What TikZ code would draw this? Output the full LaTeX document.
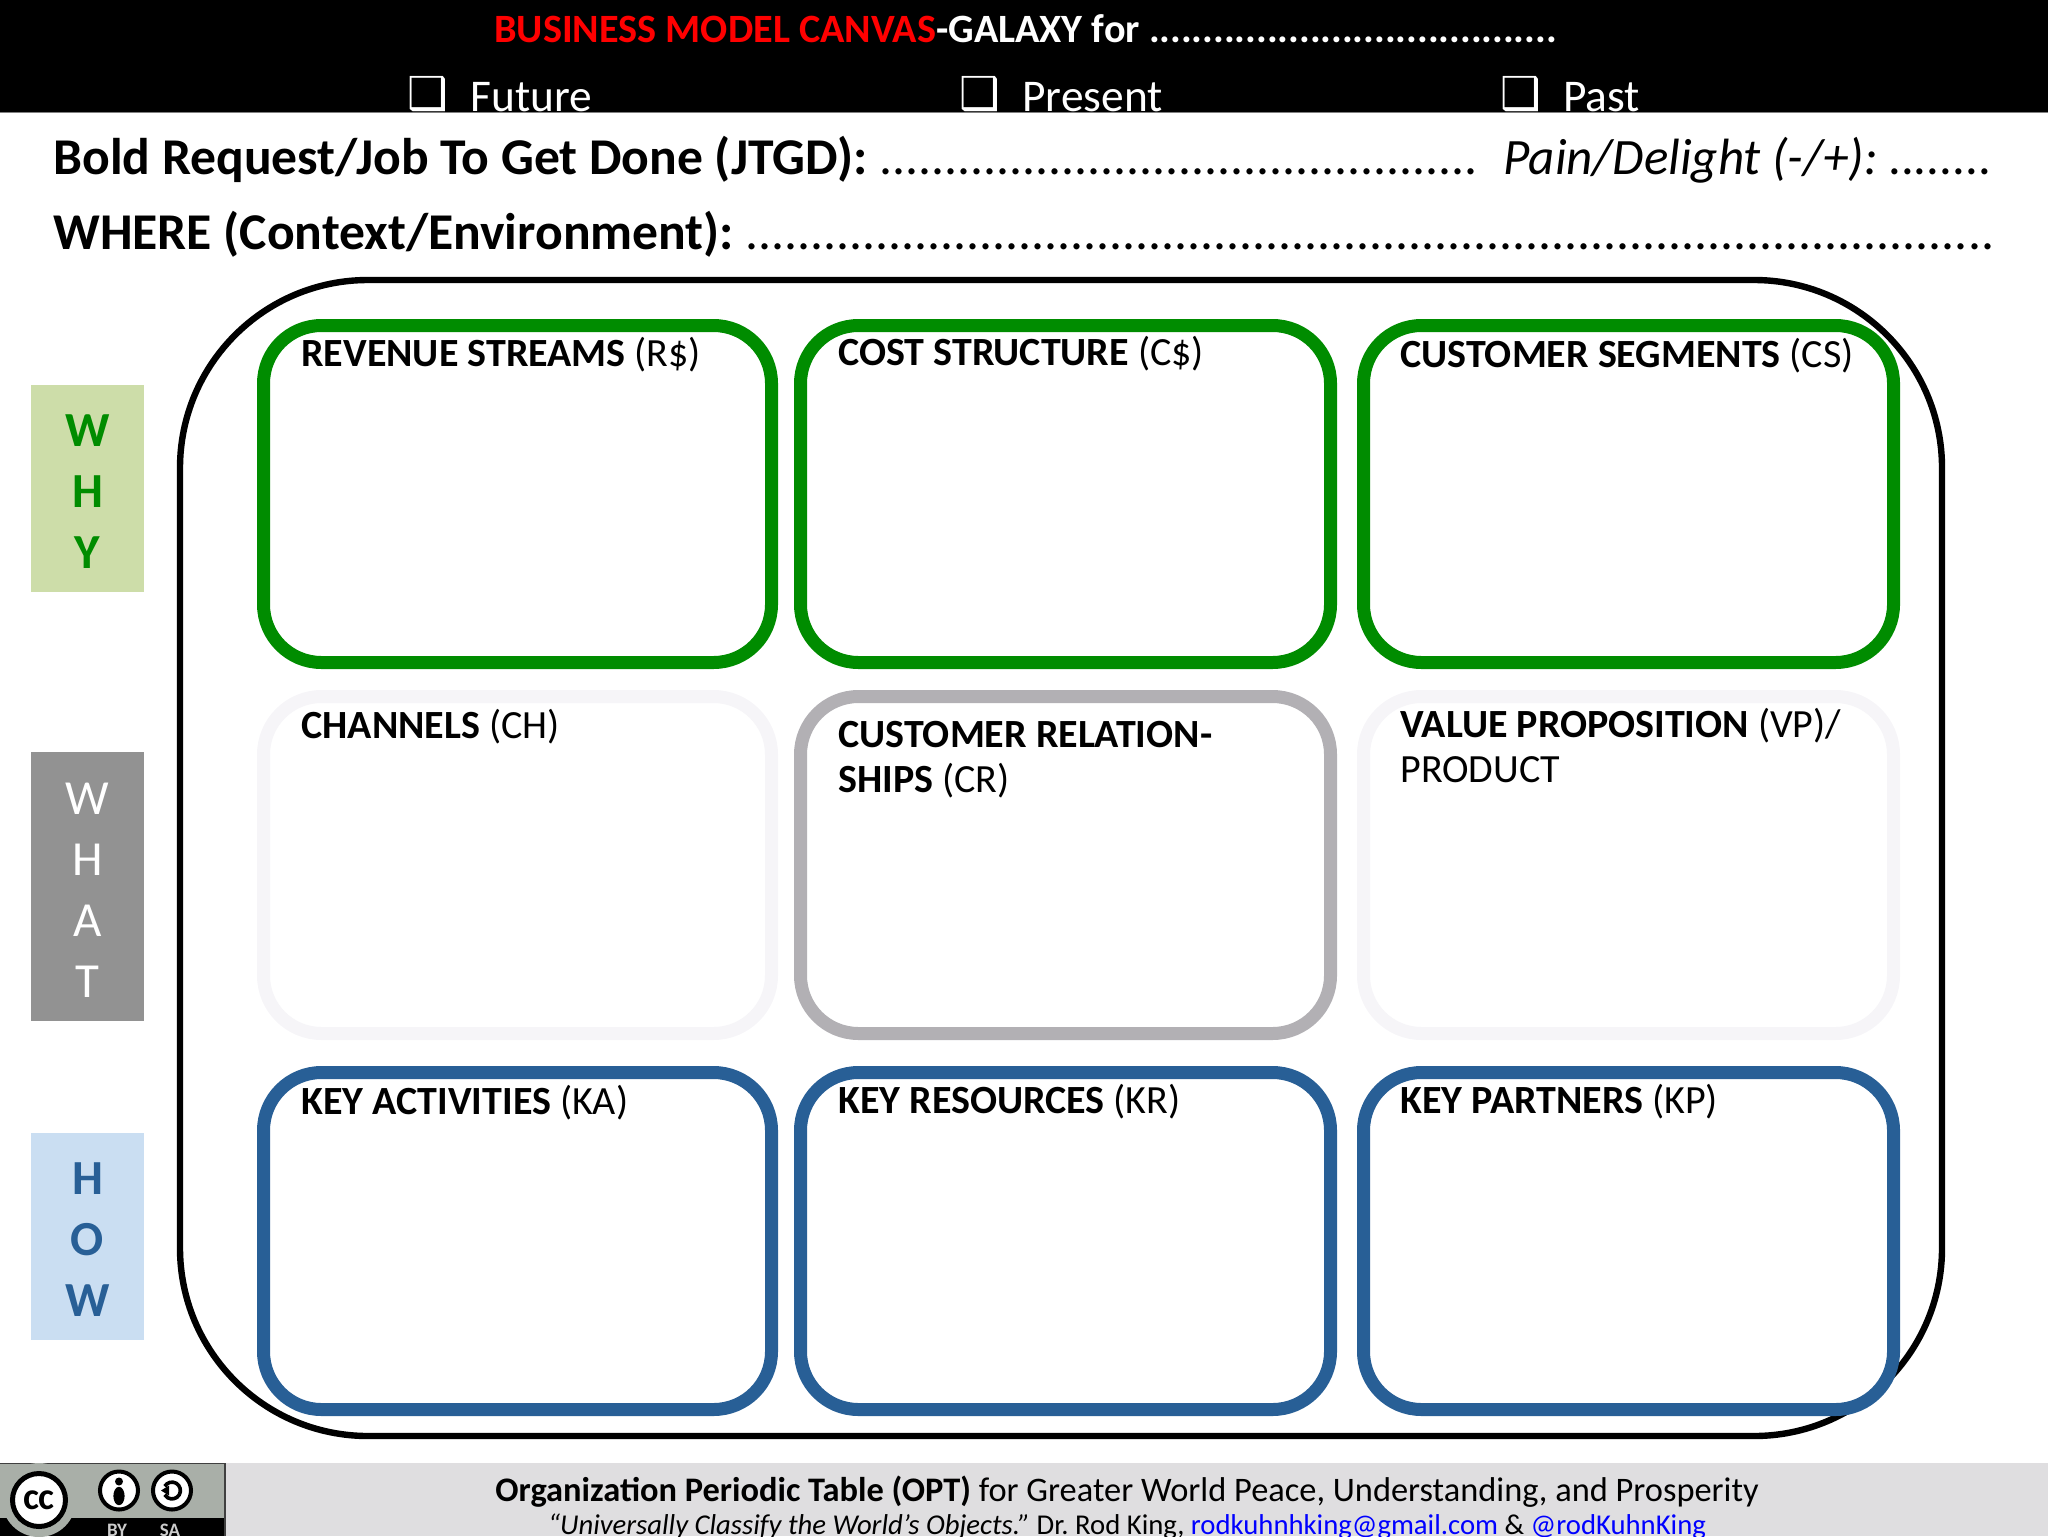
\documentclass[tikz,border=0pt]{standalone}
\usepackage{fontspec}
\setmainfont{Carlito}
\newfontfamily\symfont{DejaVu Sans}
\usetikzlibrary{positioning}
\frenchspacing
\definecolor{whyfill}{HTML}{CDDDA9}
\definecolor{howfill}{HTML}{CADEF2}
\definecolor{whatfill}{HTML}{929292}
\definecolor{whygreen}{HTML}{008C00}
\definecolor{howblue}{HTML}{285F96}
\definecolor{crgrey}{HTML}{B2B0B4}
\definecolor{faintgrey}{HTML}{F6F5F8}
\definecolor{footgrey}{HTML}{DFDEE0}
\definecolor{ccgrey}{HTML}{A9AFA8}
\newcommand{\sidepad}{\rule{0pt}{19pt}}
\begin{document}
\begin{tikzpicture}[
    x=0.5pt, y=-0.5pt,
    canvas/.style = {draw, line width=6.5pt, rounded corners=29pt, minimum height=168.5pt, outer sep=0pt, inner sep=0pt, fill=white},
    wide/.style = {canvas, minimum width=265pt},
    narrow/.style = {canvas, minimum width=254pt},
    title/.style = {anchor=base west, inner sep=0pt, font=\fontsize{20.1}{24}\selectfont},
    head/.style = {anchor=base west, inner sep=0pt, font=\fontsize{20}{24}\selectfont},
    line/.style = {anchor=base west, inner sep=0pt, font=\fontsize{25.8}{30}\selectfont},
    tick/.style = {anchor=base west, inner sep=0pt, text=white, font=\fontsize{22.7}{26}\selectfont},
    side/.style = {minimum width=56.5pt, outer sep=0pt, inner sep=0pt, align=center, font=\fontsize{24.5}{30.5}\selectfont},
    foot/.style = {anchor=base, inner sep=0pt, font=\fontsize{17.2}{20}\selectfont},
    ring/.style = {circle, draw, line width=2pt, fill=white, minimum size=19pt, inner sep=0pt},
    badge/.style = {anchor=base, inner sep=0pt, text=white!80!black, font=\bfseries\fontsize{9.5}{10}\selectfont}
  ]
  \useasboundingbox (0,0) rectangle (2048,1536);
  % top bar
  \fill (0,0) rectangle (2048,112);
  \draw[gray, line width=0.8pt] (0,112.5) -- (2048,112.5);
  \node[title, text=white] (galaxy) at (494,43) {\textbf{\textcolor{red}{BUSINESS MODEL CANVAS}-GALAXY for ......................................}};
  \node[tick] (boxfuture) at (407,110) {{\symfont ❑}};
  \node[tick] (future) at (470,112) {Future};
  \node[tick] (boxpresent) at (959,110) {{\symfont ❑}};
  \node[tick] (present) at (1022,112) {Present};
  \node[tick] (boxpast) at (1500,110) {{\symfont ❑}};
  \node[tick] (past) at (1563,112) {Past};
  % request lines
  \node[line] (jtgd) at (53,174) {\textbf{Bold Request/Job To Get Done (JTGD):} ..............................................};
  \node[line, font=\fontsize{25.5}{30}\selectfont] (pain) at (1503,174) {\textit{Pain/Delight (-/+): ........}};
  \node[line] (where) at (53,249) {\textbf{WHERE (Context/Environment):} ................................................................................................};
  % big outline
  \node[draw, line width=3.2pt, rounded corners=94pt, minimum width=881pt, minimum height=578pt, outer sep=0pt] (outer) at (1061,858) {};
  % side labels
  \node[side, fill=whyfill, minimum height=103.5pt, text=whygreen] (why) at (87.5,488.5) {\sidepad\textbf{W}\\\textbf{H}\\\textbf{Y}};
  \node[side, fill=whatfill, minimum height=134.5pt, text=white] (what) at (87.5,886.5) {\sidepad W\\H\\A\\T};
  \node[side, fill=howfill, minimum height=103.5pt, text=howblue] (how) at (87.5,1236.5) {\sidepad\textbf{H}\\\textbf{O}\\\textbf{W}};
  % boxes
  \node[narrow, draw=whygreen] (rs) at (517.5,494) {};
  \node[wide, draw=whygreen, right=14.5pt of rs] (cs) {};
  \node[wide, draw=whygreen, right=16.5pt of cs] (seg) {};
  \node[narrow, draw=faintgrey, below=17pt of rs] (ch) {};
  \node[wide, draw=crgrey, below=17pt of cs] (cr) {};
  \node[wide, draw=faintgrey, below=17pt of seg] (vp) {};
  \node[narrow, draw=howblue, below=19.5pt of ch] (ka) {};
  \node[wide, draw=howblue, below=19.5pt of cr] (kr) {};
  \node[wide, draw=howblue, below=19.5pt of vp] (kp) {};
  % box titles
  \node[head] at (301,366) {\textbf{REVENUE STREAMS} (R\$)};
  \node[head] at (838,365) {\textbf{COST STRUCTURE} (C\$)};
  \node[head] at (1400,367) {\textbf{CUSTOMER SEGMENTS} (CS)};
  \node[head] at (301,738) {\textbf{CHANNELS} (CH)};
  \node[head] at (838,747) {\textbf{CUSTOMER RELATION-}};
  \node[head] at (838,792) {\textbf{SHIPS} (CR)};
  \node[head] at (1400,737) {\textbf{VALUE PROPOSITION} (VP)/};
  \node[head] at (1400,782) {PRODUCT};
  \node[head] at (301,1114) {\textbf{KEY ACTIVITIES} (KA)};
  \node[head] at (838,1113) {\textbf{KEY RESOURCES} (KR)};
  \node[head] at (1400,1113) {\textbf{KEY PARTNERS} (KP)};
  % footer
  \fill[footgrey] (0,1463) rectangle (2048,1536);
  \node[foot] (opt) at (1127,1501) {\textbf{Organization Periodic Table (OPT)} for Greater World Peace, Understanding, and Prosperity};
  \node[foot, font=\fontsize{14.35}{17}\selectfont] (rod) at (1127,1534) {\textit{“Universally Classify the World’s Objects.”} Dr. Rod King, \textcolor{blue}{rodkuhnhking@gmail.com} \& \textcolor{blue}{@rodKuhnKing}};
  % cc badge
  \fill[ccgrey] (0,1463) rectangle (224,1536);
  \fill (0,1518) rectangle (224,1536);
  \draw[gray!50!black, line width=1pt] (0,1463.5) -- (224.5,1463.5) -- (224.5,1536);
  \node[circle, fill=ccgrey, minimum size=37pt, inner sep=0pt] (halo) at (39,1500) {};
  \fill[ccgrey] (0,1464) rectangle (224,1518);
  \node[circle, draw, line width=2.5pt, fill=white, minimum size=26.5pt, inner sep=0pt, font=\bfseries\fontsize{19}{19}\selectfont] (cc) at (39,1500) {cc};
  \node[ring] (by) at (119,1490.5) {};
  \fill (by.center) ++(0,-9) circle (2pt);
  \fill ([yshift=-2.75pt]by.center) ellipse (2.8pt and 4.6pt);
  \node[ring] (sa) at (172,1490.5) {};
  \draw[line width=1.8pt] ([shift={(150:4.2pt)}]sa.center) arc[start angle=150, end angle=-150, radius=4.2pt];
  \fill ([xshift=-5.5pt]sa.center) -- ([shift={(-1.5pt,2.5pt)}]sa.center) -- ([shift={(-1.5pt,-2.5pt)}]sa.center) -- cycle;
  \node[badge] (bylabel) at (117,1536) {BY};
  \node[badge] (salabel) at (170,1536) {SA};
\end{tikzpicture}
\end{document}
